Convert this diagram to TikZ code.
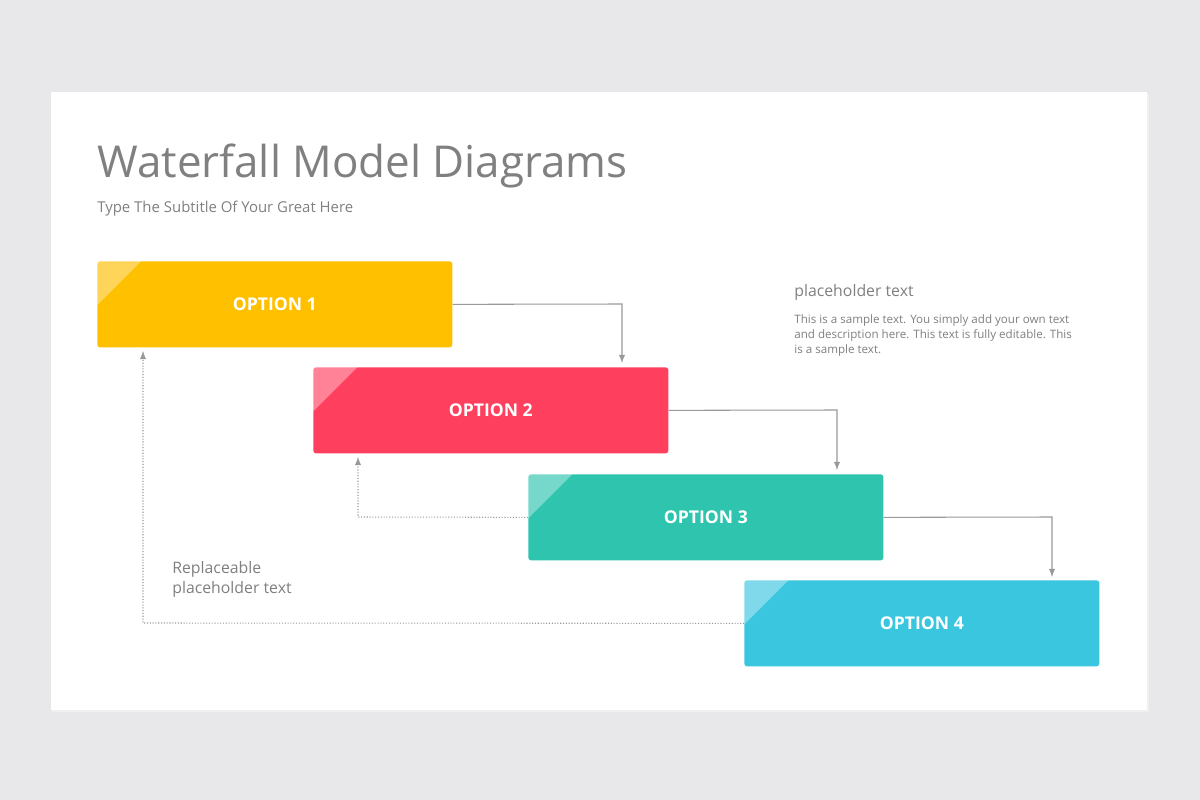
\documentclass[tikz,border=0pt]{standalone}
\usepackage{fontspec}
\setmainfont{Open Sans}
\begin{document}
\begin{tikzpicture}[x=0.02cm,y=-0.02cm,
  box/.style={rounded corners=1.5pt,minimum width=355*0.02cm,minimum height=86*0.02cm,anchor=north west,inner sep=0pt,font=\fontsize{10}{12}\selectfont\bfseries,text=white},
  flow/.style={draw=black!40,line width=0.6pt,-latex},
  back/.style={draw=black!40,line width=0.6pt,densely dotted,-latex}]
\definecolor{bg}{HTML}{E8E7E9}
\definecolor{tgray}{HTML}{808080}
\definecolor{cA}{HTML}{FFC000}
\definecolor{cB}{HTML}{FF3F5E}
\definecolor{cC}{HTML}{2EC4AE}
\definecolor{cD}{HTML}{3BC6E0}
\fill[bg] (0,0) rectangle (1200,800);
\useasboundingbox (0,0) rectangle (1200,800);
\fill[black!6] (52,94) rectangle (1149,712);
\fill[white] (51,92) rectangle (1147,710);
\node[anchor=base west,text=tgray,font=\fontsize{25}{30}\selectfont,inner sep=0] (title) at (97,178) {Waterfall Model Diagrams};
\node[anchor=base west,text=tgray,font=\fontsize{8.5}{10}\selectfont,inner sep=0] (sub) at (97,213) {Type The Subtitle Of Your Great Here};
\foreach \n/\x/\y/\c/\t in {a/97/261/cA/OPTION 1,b/313/367/cB/OPTION 2,c/528/474/cC/OPTION 3,d/744/580/cD/OPTION 4}{
  \node[box,fill=\c] (\n) at (\x,\y) {\t};
  \fill[white,opacity=0.35] (\x,\y+1.5) -- ++(0,43) -- ++(45,-45) -- (\x+1.5,\y) -- cycle;
}
\draw[flow] (a.east) -- (622,304) -- (622,363);
\draw[flow] (b.east) -- (837,410) -- (837,470);
\draw[flow] (c.east) -- (1052,517) -- (1052,577);
\draw[back] (c.west) -- (358,517) -- (358,457);
\draw[back] (d.west) -- (143,623) -- (143,351);
\node[anchor=base west,text=tgray,font=\fontsize{9}{11}\selectfont,inner sep=0] (ph) at (794,297) {placeholder text};
\node[anchor=north west,text=tgray,font=\fontsize{6.6}{8.5}\selectfont,inner sep=0,align=left] (para) at (794,314) {This is a sample text. You simply add your own text\\and description here. This text is fully editable. This\\is a sample text.};
\node[anchor=north west,text=tgray,font=\fontsize{9}{11.4}\selectfont,inner sep=0,align=left] (rep) at (172,561) {Replaceable\\placeholder text};
\end{tikzpicture}
\end{document}
